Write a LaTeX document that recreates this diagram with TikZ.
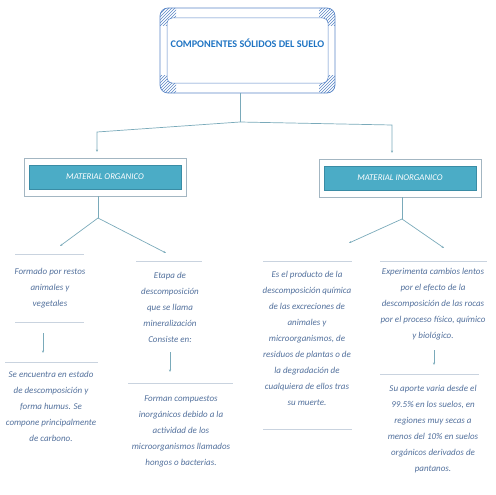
\documentclass[tikz,border=0pt]{standalone}
\usepackage{fontspec}
\setmainfont{Carlito}
\usepackage{tikz}
\usetikzlibrary{positioning,calc,patterns,arrows.meta}

\definecolor{linkc}{HTML}{7AAABA}
\definecolor{sepc}{HTML}{C9D3DF}
\definecolor{textc}{HTML}{52709C}
\definecolor{framec}{HTML}{A3B6C2}
\definecolor{matc}{HTML}{4BACC6}
\definecolor{matd}{HTML}{3A8CA5}
\definecolor{bevc}{HTML}{5A86C6}
\definecolor{titc}{HTML}{1F74C3}

\begin{document}
\begin{tikzpicture}[x=1pt,y=-1pt,
    link/.style={linkc,line width=0.7pt},
    tip/.style={-{Stealth[length=2.5pt,width=2pt]}},
    sep/.style={sepc,line width=1pt},
    txt/.style={text=textc,font=\fontsize{9}{16}\selectfont\itshape,align=center,inner sep=0pt},
    framebox/.style={draw=framec,line width=0.8pt,minimum width=162pt,minimum height=38pt,inner sep=0pt},
    matbox/.style={fill=matc,draw=matd,line width=0.6pt,minimum width=152pt,minimum height=24pt,
        text=white,font=\fontsize{8.8}{10}\selectfont\itshape,inner sep=0pt}]
    \useasboundingbox (0,0) rectangle (495,495);

    % top bevel box
    \node[draw=bevc,rounded corners=8pt,line width=0.7pt,minimum width=175pt,minimum height=85pt] (suelo) at (247.5,50.5) {};
    \draw[bevc,rounded corners=5pt,line width=0.5pt] (167,18) rectangle (328,83);
    \begin{scope}
        \clip (160,8) rectangle (176,26) (319,8) rectangle (335,26) (160,75) rectangle (176,93) (319,75) rectangle (335,93);
        \fill[pattern=north east lines,pattern color=bevc,even odd rule] [rounded corners=8pt] (160,8) rectangle (335,93) [rounded corners=5pt] (167,18) rectangle (328,83);
    \end{scope}
    \node[font=\fontsize{10.2}{12}\selectfont\bfseries,text=titc] (titulo) at (247.5,43) {COMPONENTES SÓLIDOS DEL SUELO};

    % material boxes
    \node[framebox] (orgframe) at (105,177) {};
    \node[matbox] (org) at (orgframe) {MATERIAL ORGANICO};
    \node[framebox] (inoframe) at (400,178) {};
    \node[matbox] (ino) at (inoframe) {MATERIAL INORGANICO};

    % first level connectors
    \coordinate (hub) at (240,122);
    \coordinate (orgknee) at (97,132);
    \coordinate (orgtip) at (97,152);
    \coordinate (inoknee) at (392,125);
    \coordinate (inotip) at (392,153);
    \draw[link] (suelo.south -| hub) -- (hub);
    \draw[link,tip] (hub) -- (orgknee) -- (orgtip);
    \draw[link,tip] (hub) -- (inoknee) -- (inotip);

    % second level connectors
    \coordinate (orgfork) at (98,218);
    \coordinate (restostip) at (60,246);
    \coordinate (etapatip) at (166,253);
    \coordinate (inofork) at (402,219);
    \coordinate (productotip) at (349,243);
    \coordinate (cambiostip) at (444,248);
    \draw[link] (orgframe.south -| orgfork) -- (orgfork);
    \draw[link] (inoframe.south -| inofork) -- (inofork);
    \foreach \a/\b in {orgfork/restostip,orgfork/etapatip,inofork/productotip,inofork/cambiostip}
        \draw[link,tip] (\a) -- (\b);

    % separators
    \foreach \xa/\xb/\y in {15/84/254,15/84/322,5/98/362,136/202/261,128/233/383,
        263/352/261,263/352/429,380/487/261,380/479/374}
        \draw[sep] (\xa,\y) -- (\xb,\y);

    % texts
    \node[txt] (restos) at (50,288) {Formado por restos\\animales y\\vegetales};
    \node[txt] (etapa) at (170,307.5) {Etapa de\\descomposición\\que se llama\\mineralización\\Consiste en:};
    \node[txt] (producto) at (307,338.5) {Es el producto de la\\descomposición química\\de las excreciones de\\animales y\\microorganismos, de\\residuos de plantas o de\\la degradación de\\cualquiera de ellos tras\\su muerte.};
    \node[txt] (cambios) at (433,304) {Experimenta cambios lentos\\por el efecto de la\\descomposición de las rocas\\por el proceso físico, químico\\y biológico.};
    \node[txt] (humus) at (51,406) {Se encuentra en estado\\de descomposición y\\forma humus. Se\\compone principalmente\\de carbono.};
    \node[txt] (compuestos) at (181,431.5) {Forman compuestos\\inorgánicos debido a la\\actividad de los\\microorganismos llamados\\hongos o bacterias.};
    \node[txt] (aporte) at (433,429.5) {Su aporte varia desde el\\99.5\% en los suelos, en\\regiones muy secas a\\menos del 10\% en suelos\\orgánicos derivados de\\pantanos.};

    % vertical arrows
    \coordinate (humusa) at (43,333);
    \coordinate (humusb) at (43,353);
    \coordinate (compa) at (170,352);
    \coordinate (compb) at (170,372);
    \coordinate (aportea) at (434,350);
    \coordinate (aporteb) at (434,365);
    \foreach \a/\b in {humusa/humusb,compa/compb,aportea/aporteb}
        \draw[link,line width=0.5pt,tip] (\a) -- (\b);
\end{tikzpicture}
\end{document}
